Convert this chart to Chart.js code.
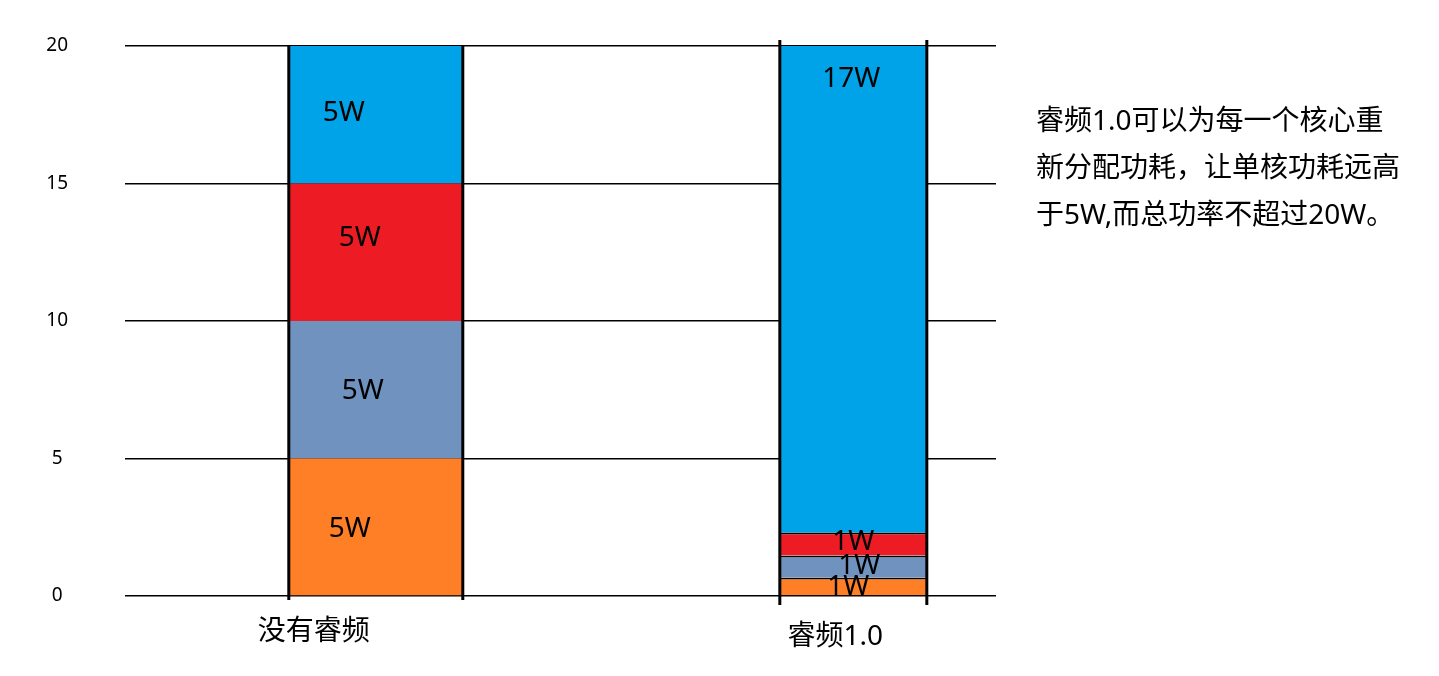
<!DOCTYPE html>
<html>
<head>
<meta charset="utf-8">
<title>睿频功耗分配</title>
<script src="https://cdn.jsdelivr.net/npm/chart.js@4.4.1/dist/chart.umd.min.js"></script>
<style>
    body { margin: 0; background: #fff; }
    #wrap { position: relative; width: 1439px; height: 676px; }
    #note {
        position: absolute;
        left: 1036px;
        top: 96px;
        font-family: 'Noto Sans', 'Noto Sans CJK SC', sans-serif;
        font-size: 28px;
        line-height: 47px;
        color: #000;
        white-space: nowrap;
    }
</style>
</head>
<body>
<div id="wrap">
    <canvas id="powerChart" width="1439" height="676"></canvas>
    <div id="note">
        <div>睿频1.0可以为每一个核心重</div>
        <div>新分配功耗，让单核功耗远高</div>
        <div>于5W,而总功率不超过20W。</div>
    </div>
</div>
<script>
// Data (segments listed bottom to top)
const categories = ['没有睿频', '睿频1.0'];
const noBoostWatts = [5, 5, 5, 5];
const boostWatts = [0.67, 0.8, 0.84, 17.69];
const noBoostLabels = ['5W', '5W', '5W', '5W'];
const boostLabels = ['1W', '1W', '1W', '17W'];
const yTicks = [0, 5, 10, 15, 20];

// Styling
const segmentColors = ['#FF7F27', '#7092BE', '#ED1C24', '#00A2E8'];
const barWidths = [174, 147];
const edgeOverhang = [[1, 4], [6, 9]];          // bar edges poke out above / below
const labelNudges = [
    [[-26, 2], [-13, 1], [-16, -14], [-32, -2]],
    [[-5, 1], [6, -1], [0, -2], [-2, -210]]
];
const categoryNudges = [[-62, 36], [-18, 41]];
const FONT = "'Noto Sans', 'Noto Sans CJK SC', sans-serif";

function buildDatasets() {
    const series = [noBoostWatts, boostWatts];
    const texts = [noBoostLabels, boostLabels];
    const datasets = [];
    series.forEach((values, c) => {
        values.forEach((v, i) => {
            // thin separators between the small segments of the right bar
            const sep = (c === 1 && i < values.length - 1) ? 2 : 0;
            datasets.push({
                data: [{ x: c, y: v }],
                backgroundColor: segmentColors[i],
                borderColor: '#000',
                borderWidth: { top: sep, bottom: 0, left: 0, right: 0 },
                borderSkipped: false,
                grouped: false,
                maxBarThickness: barWidths[c],
                wattLabel: texts[c][i],
                labelNudge: labelNudges[c][i]
            });
        });
    });
    return datasets;
}

const overlayPlugin = {
    id: 'overlay',
    afterDatasetsDraw(chart) {
        const ctx = chart.ctx;
        const y = chart.scales.y;
        ctx.save();
        ctx.strokeStyle = '#000';
        ctx.lineWidth = 3;
        categories.forEach((name, c) => {
            const bar = chart.getDatasetMeta(c * noBoostWatts.length).data[0];
            const half = bar.width / 2;
            const top = y.getPixelForValue(y.max) - edgeOverhang[c][0];
            const bottom = y.getPixelForValue(0) + edgeOverhang[c][1];
            [bar.x - half, bar.x + half].forEach(px => {
                ctx.beginPath();
                ctx.moveTo(px, top);
                ctx.lineTo(px, bottom);
                ctx.stroke();
            });
        });
        ctx.restore();
    },
    afterDraw(chart) {
        const ctx = chart.ctx;
        const x = chart.scales.x;
        const y = chart.scales.y;
        ctx.save();
        ctx.fillStyle = '#000';
        ctx.textAlign = 'center';
        ctx.textBaseline = 'middle';
        ctx.font = '28px ' + FONT;

        chart.data.datasets.forEach((ds, i) => {
            const el = chart.getDatasetMeta(i).data[0];
            const cx = el.x + ds.labelNudge[0];
            const cy = (el.y + el.base) / 2 + ds.labelNudge[1];
            ctx.fillText(ds.wattLabel, cx, cy);
        });

        categories.forEach((name, c) => {
            const cx = x.getPixelForValue(c) + categoryNudges[c][0];
            const cy = y.getPixelForValue(0) + categoryNudges[c][1];
            ctx.fillText(name, cx, cy);
        });
        ctx.restore();
    }
};

function initializeChart() {
    const canvasElem = document.getElementById('powerChart');
    if (typeof Chart === 'undefined' || !canvasElem) {
        console.error('Chart.js or canvas missing');
        return;
    }
    Chart.defaults.font.family = FONT;
    Chart.defaults.color = '#000';

    new Chart(canvasElem, {
        type: 'bar',
        data: { datasets: buildDatasets() },
        plugins: [overlayPlugin],
        options: {
            responsive: false,
            animation: false,
            layout: { padding: { left: 0, right: 443, top: 46, bottom: 80 } },
            plugins: {
                legend: { display: false },
                tooltip: { enabled: false }
            },
            scales: {
                x: {
                    type: 'linear',
                    min: -0.5252,
                    max: 1.2988,
                    offset: false,
                    display: false,
                    afterBuildTicks: s => { s.ticks = categories.map((n, i) => ({ value: i })); }
                },
                y: {
                    min: 0,
                    max: 20,
                    stacked: true,
                    z: 1,
                    afterBuildTicks: s => { s.ticks = yTicks.map(v => ({ value: v })); },
                    afterFit: s => {
                        // fixed axis width; the big tick padding shouldn't push the plot down
                        s.width = 125;
                        s.paddingTop = 12;
                        s.paddingBottom = 12;
                    },
                    grid: { color: '#000', lineWidth: 1.5, drawTicks: false },
                    border: { display: false },
                    ticks: {
                        padding: 57,
                        crossAlign: 'center',
                        color: '#000',
                        font: { size: 19 }
                    }
                }
            }
        }
    });
}

initializeChart();
</script>
</body>
</html>
